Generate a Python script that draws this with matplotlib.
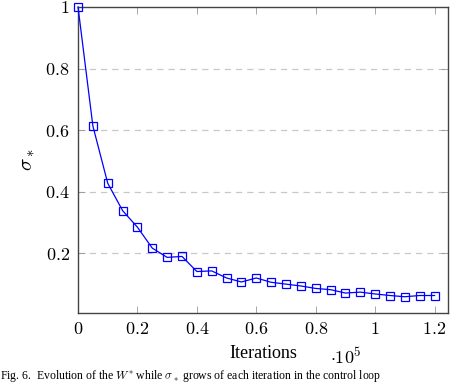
import numpy as np
import matplotlib
matplotlib.use("Agg")
import matplotlib.pyplot as plt

plt.rcParams['font.family'] = ['Liberation Serif', 'DejaVu Serif']
plt.rcParams['mathtext.fontset'] = 'cm'

# --- DATA ---
iterations = [0, 5000, 10000, 15000, 20000, 25000, 30000, 35000, 40000, 45000,
              50000, 55000, 60000, 65000, 70000, 75000, 80000, 85000, 90000,
              95000, 100000, 105000, 110000, 115000, 120000]
sigma = [1.0, 0.613, 0.427, 0.338, 0.284, 0.216, 0.186, 0.189, 0.140, 0.142,
         0.119, 0.106, 0.119, 0.105, 0.099, 0.093, 0.085, 0.081, 0.070,
         0.073, 0.067, 0.062, 0.058, 0.062, 0.062]
xticks = [0, 0.2, 0.4, 0.6, 0.8, 1, 1.2]
yticks = [0.2, 0.4, 0.6, 0.8, 1]

fig = plt.figure(figsize=(4.74, 3.86), dpi=100)
ax = fig.add_axes([0.1646, 0.189, 0.7804, 0.7929])

x = np.array(iterations) / 1e5
ax.plot(x, sigma, color='#0000ff', linewidth=0.9, marker='s', markersize=6,
        markerfacecolor='none', markeredgecolor='#0000ff', markeredgewidth=0.9,
        clip_on=False, zorder=5)

ax.set_xlim(0, 1.245)
ax.set_ylim(0.005, 1.0)
ax.set_xticks(xticks)
ax.set_xticklabels([f"${t:g}$" for t in xticks])
ax.set_yticks(yticks)
ax.set_yticklabels([f"${t:g}$" for t in yticks])

for t in yticks[:-1]:
    ax.axhline(t, color='#c8c8c8', linestyle=(0, (5, 4)), linewidth=0.9, zorder=1)

for s in ax.spines.values():
    s.set_color('#444444')
    s.set_linewidth(1.0)
ax.tick_params(direction='in', length=5, width=0.6, color='#999999',
               top=True, right=True, labelsize=13, pad=6)

ax.set_xlabel('Iterations', fontsize=13, labelpad=5)
ax.set_ylabel(r'$\sigma_*$', fontsize=15, labelpad=6)
fig.text(0.73, 0.075, r'$\cdot 10^5$', fontsize=13, ha='center', va='center')

fig.text(0.0, 0.004, r'Fig. 6.  Evolution of the $W^{*}$ while $\sigma_*$ grows of each iteration in the control loop',
         fontsize=8.5, ha='left', va='bottom')

fig.savefig('out.png', dpi=100)
